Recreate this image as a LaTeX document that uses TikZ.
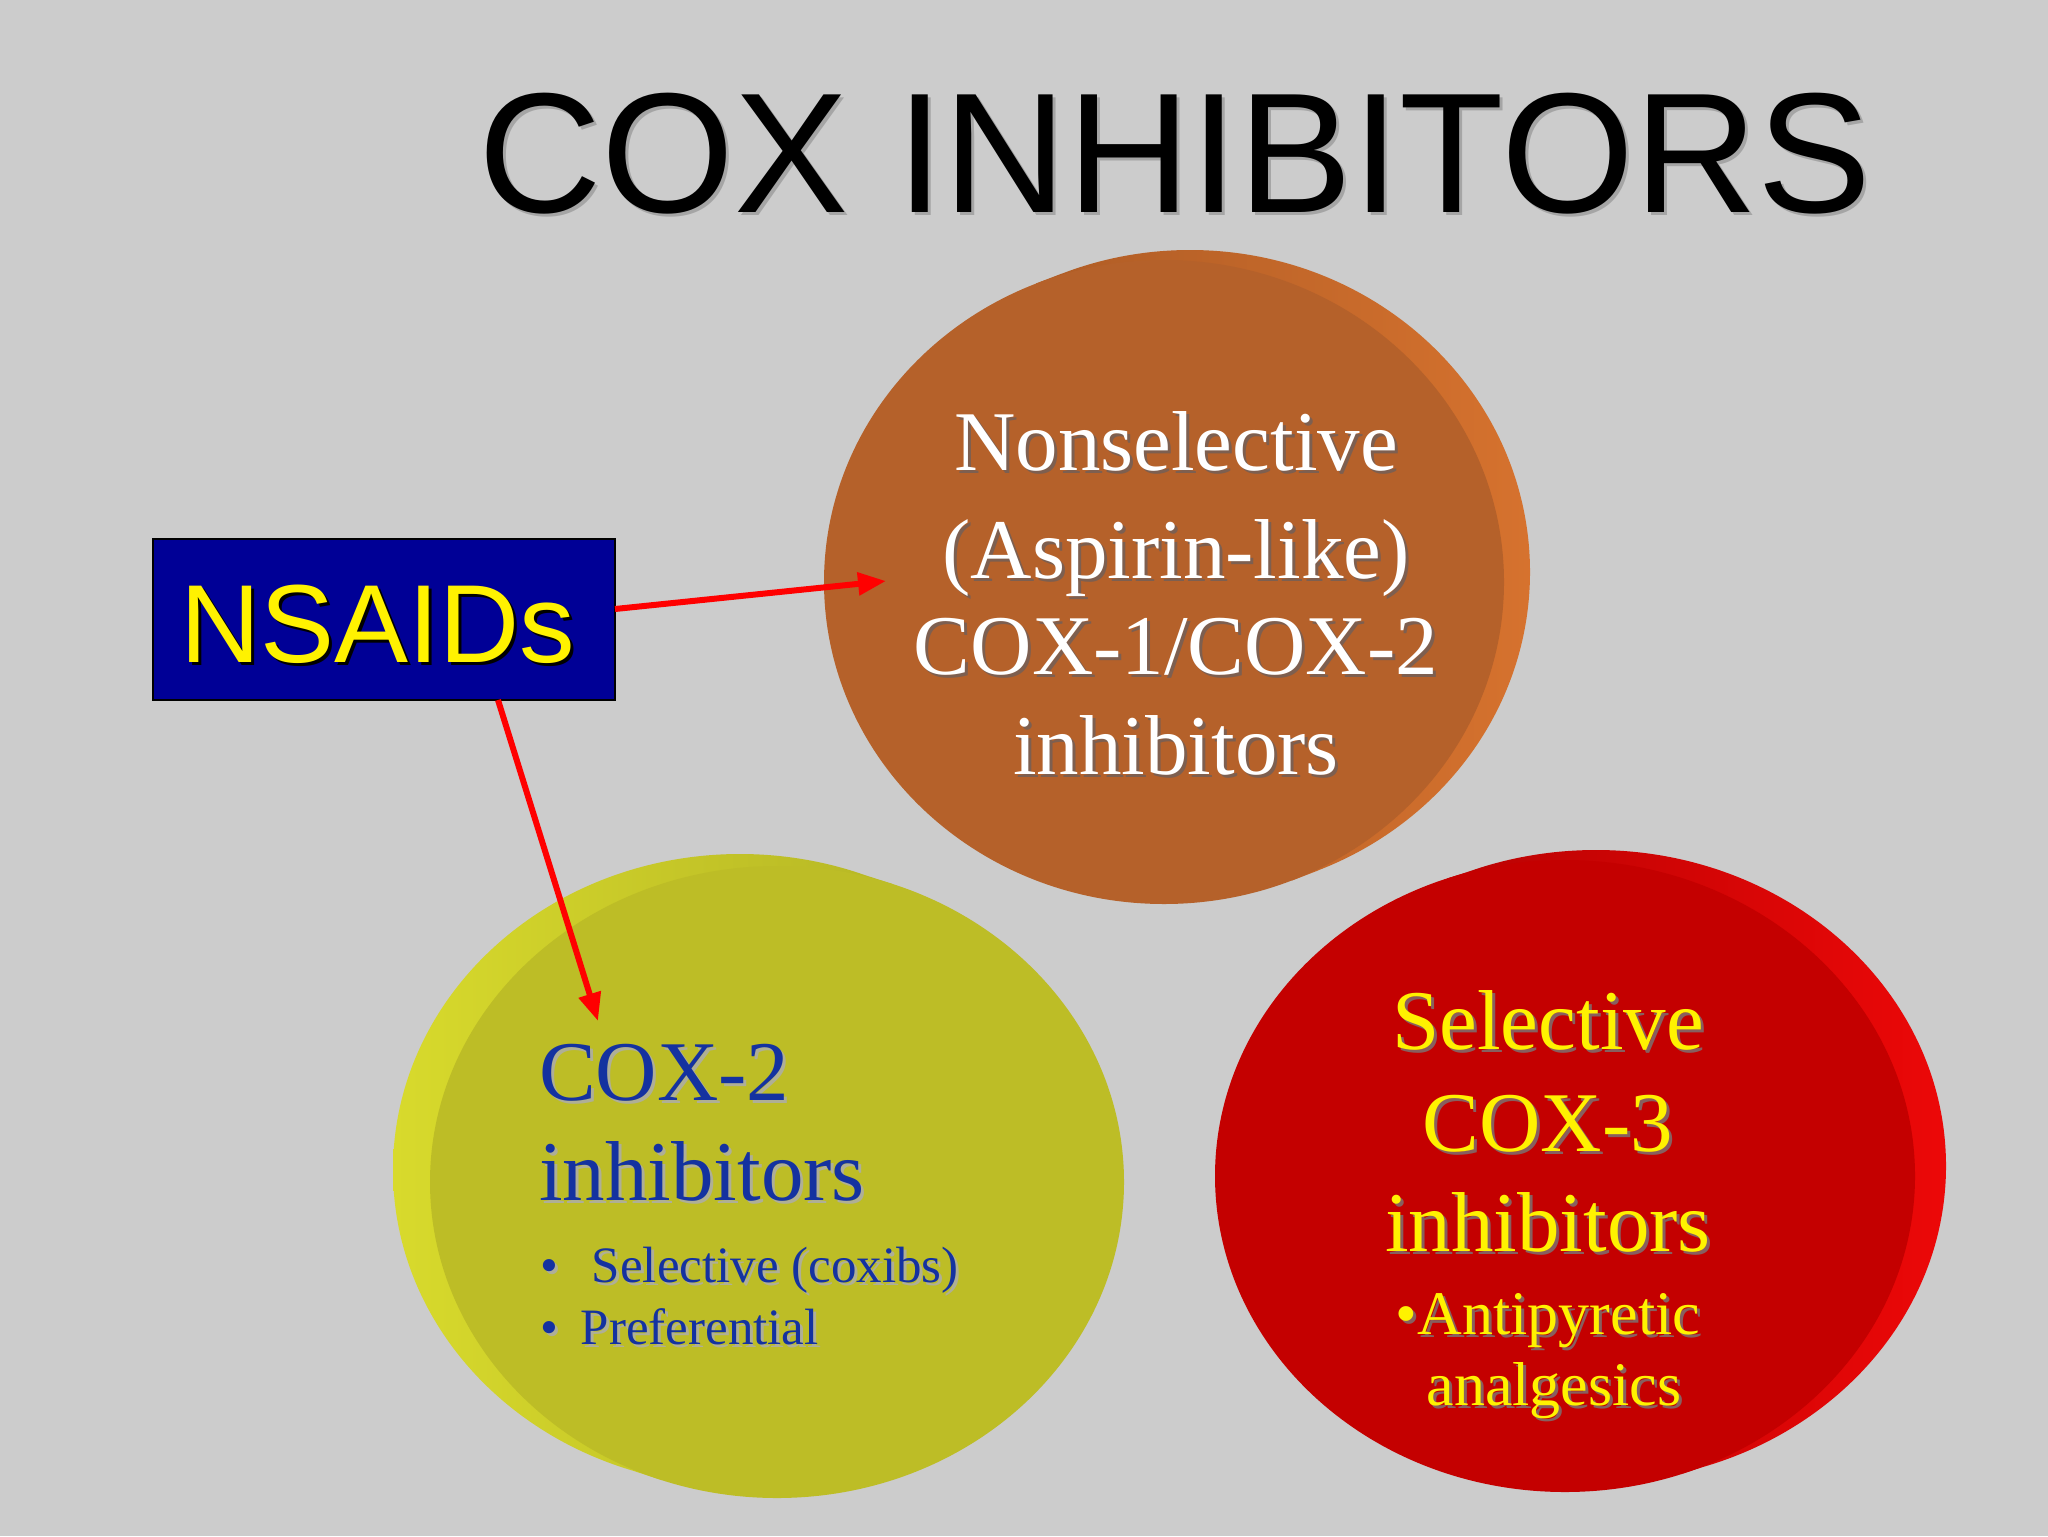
\documentclass[tikz,border=0pt]{standalone}
\usepackage{fontspec}
\setmainfont{Liberation Serif}
\newfontfamily\arialf{Liberation Sans}
\usetikzlibrary{arrows.meta,shapes.geometric}
\definecolor{bg}{RGB}{204,204,204}
\definecolor{orface}{RGB}{181,97,42}
\definecolor{orrimA}{RGB}{160,84,34}
\definecolor{orrimB}{RGB}{214,114,46}
\definecolor{grface}{RGB}{189,189,38}
\definecolor{grrimA}{RGB}{216,218,44}
\definecolor{grrimB}{RGB}{170,170,34}
\definecolor{rdface}{RGB}{196,0,0}
\definecolor{rdrimA}{RGB}{165,0,0}
\definecolor{rdrimB}{RGB}{236,8,8}
\definecolor{nsblue}{RGB}{0,0,150}
\definecolor{txtblue}{RGB}{20,50,160}
\definecolor{shOr}{RGB}{125,95,80}
\definecolor{shRd}{RGB}{135,95,95}
\definecolor{shGr}{RGB}{175,175,150}
\definecolor{shTi}{RGB}{165,165,165}
\newcommand\sline[5]{%
  \node[#4,xshift=1.5pt,yshift=-1.5pt] (#1-sh) at #2 {#5};
  \node[#3] (#1) at #2 {#5};}
\begin{document}
\begin{tikzpicture}[x=0.5pt,y=-0.5pt,
  every node/.style={inner sep=0pt,outer sep=0pt},
  face/.style={ellipse,draw=none},
  titlef/.style={font=\arialf\fontsize{85.5pt}{85.5pt}\selectfont,anchor=base},
  nsf/.style={font=\arialf\fontsize{55.5pt}{55.5pt}\selectfont,anchor=base},
  bigserif/.style={font=\fontsize{42.5pt}{42.5pt}\selectfont},
  smallserif/.style={font=\fontsize{31pt}{31pt}\selectfont},
  bulserif/.style={font=\fontsize{25.5pt}{25.5pt}\selectfont},
  wt/.style={bigserif,text=white,anchor=base},
  wtsh/.style={bigserif,text=shOr,anchor=base},
  yt/.style={bigserif,text=yellow,anchor=base},
  ytsh/.style={bigserif,text=shRd,anchor=base},
  yts/.style={smallserif,text=yellow,anchor=base},
  ytssh/.style={smallserif,text=shRd,anchor=base},
  bt/.style={bigserif,text=txtblue,anchor=base west},
  btsh/.style={bigserif,text=shGr,anchor=base west},
  bts/.style={bulserif,text=txtblue,anchor=base west},
  btssh/.style={bulserif,text=shGr,anchor=base west},
  arr/.style={draw={rgb,255:red,255;green,0;blue,0},line width=3pt,-{Triangle[length=14pt,width=11pt]}}
]
\useasboundingbox (0,0) rectangle (2048,1536);
\fill[bg] (0,0) rectangle (2048,1536);

% title
\sline{title}{(1175,212)}{titlef,text=black}{titlef,text=shTi}{COX INHIBITORS}

% orange disk (rim = swept ellipse)
\shade[left color=orrimA,right color=orrimB]
  (1190,572) ellipse [x radius=340,y radius=322]
  (1292,880.5) -- (1036,283.5) -- (1062,273.5) -- (1318,870.5) -- cycle;
\node[face,fill=orface,minimum width=340pt,minimum height=322pt] (orange) at (1164,582) {};
\sline{o1}{(1176,470)}{wt}{wtsh}{Nonselective}
\sline{o2}{(1176,578)}{wt}{wtsh}{(Aspirin-like)}
\sline{o3}{(1176,674)}{wt}{wtsh}{COX-1/COX-2}
\sline{o4}{(1176,774)}{wt}{wtsh}{inhibitors}

% green disk
\shade[left color=grrimA,right color=grrimB]
  (740,1170) ellipse [x radius=347,y radius=316]
  (893.3,884.3) -- (660.7,1479.7) -- (623.7,1467.7) -- (856.3,872.3) -- cycle;
\node[face,fill=grface,minimum width=347pt,minimum height=316pt] (green) at (777,1182) {};
\sline{g1}{(539,1100)}{bt}{btsh}{COX-2}
\sline{g2}{(539,1200)}{bt}{btsh}{inhibitors}
\sline{g3}{(540,1282)}{bts}{btssh}{\textbullet\hspace{17pt}Selective (coxibs)}
\sline{g4}{(540,1344)}{bts}{btssh}{\textbullet\hspace{11.5pt}Preferential}

% red disk
\shade[left color=rdrimA,right color=rdrimB]
  (1596,1166) ellipse [x radius=350,y radius=316]
  (1683,1473.4) -- (1447,878.6) -- (1478,868.6) -- (1714,1463.4) -- cycle;
\node[face,fill=rdface,minimum width=350pt,minimum height=316pt] (red) at (1565,1176) {};
\sline{r1}{(1548,1049)}{yt}{ytsh}{Selective}
\sline{r2}{(1548,1151)}{yt}{ytsh}{COX-3}
\sline{r3}{(1548,1251)}{yt}{ytsh}{inhibitors}
\sline{r4}{(1548,1334)}{yts}{ytssh}{\textbullet Antipyretic}
\sline{r5}{(1554,1405)}{yts}{ytssh}{analgesics}

% NSAIDs box
\node[draw=black,line width=0.75pt,fill=nsblue,minimum width=231pt,minimum height=80.5pt] (nsaids) at (384,619.5) {};
\node[nsf,text=black,xshift=1.5pt,yshift=-1.5pt] (ns-sh) at (378,662) {NSAIDs};
\node[nsf,text=yellow] (ns) at (378,662) {NSAIDs};

% arrows
\coordinate (s1) at (nsaids.east |- 0,609);
\coordinate (e1) at (886,581);
\coordinate (s2) at (498,0 |- nsaids.south);
\coordinate (e2) at (598,1021);
\draw[arr] (s1) -- (e1);
\draw[arr] (s2) -- (e2);
\end{tikzpicture}
\end{document}
